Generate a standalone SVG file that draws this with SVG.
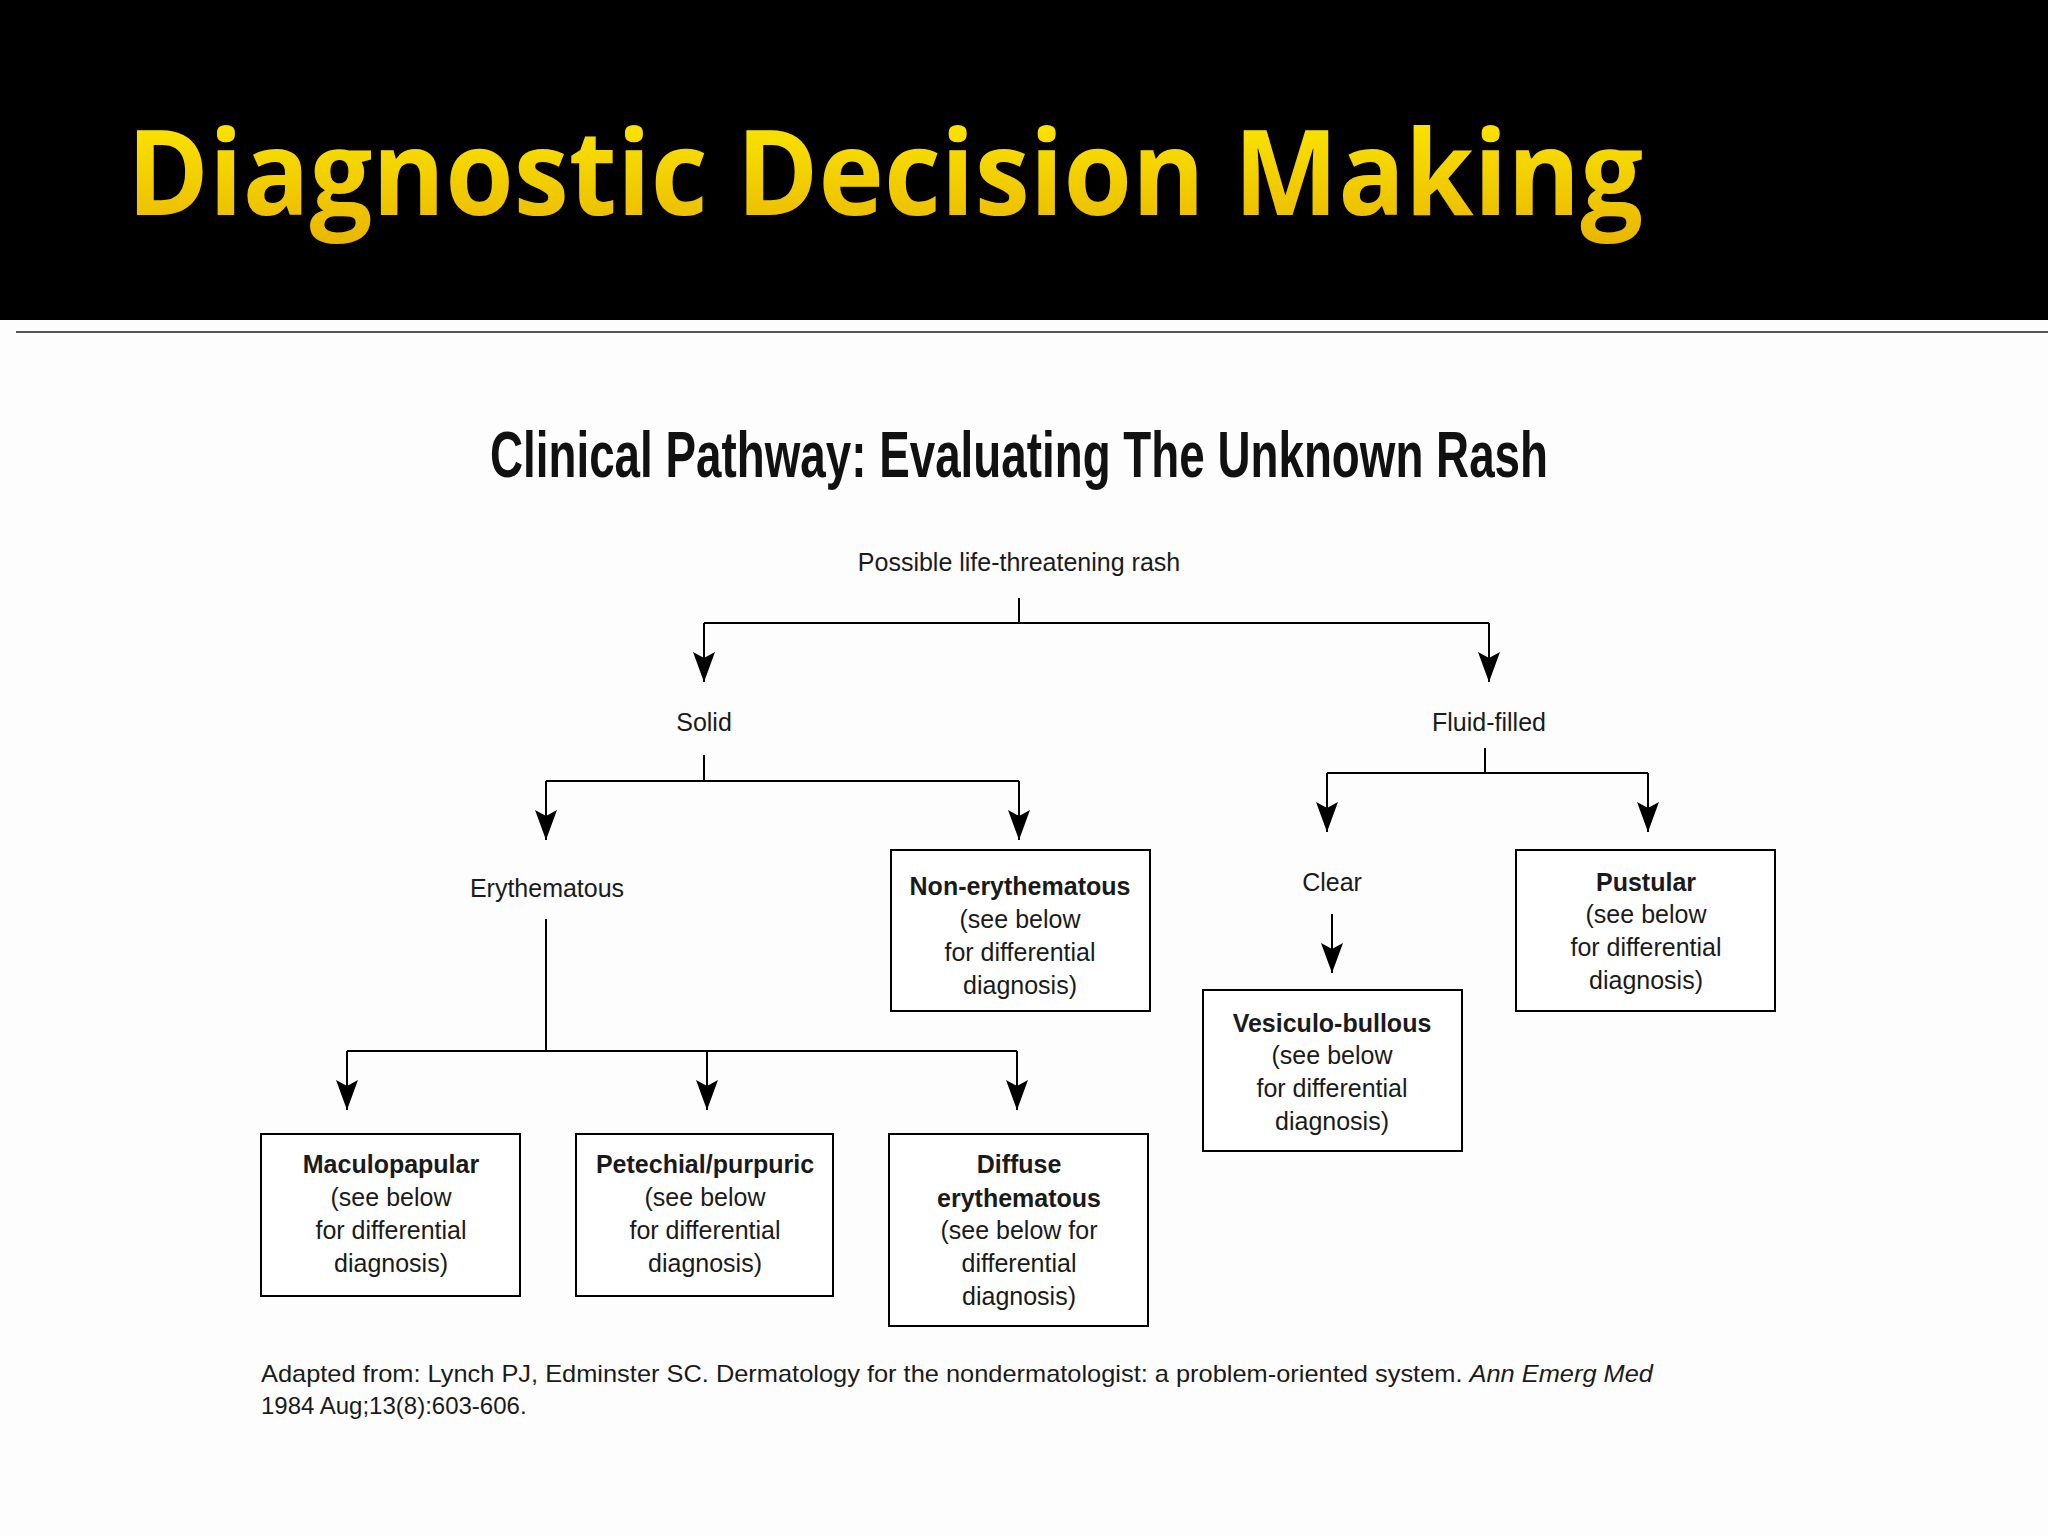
<svg xmlns="http://www.w3.org/2000/svg" width="2048" height="1536" viewBox="0 0 2048 1536">
<defs>
<linearGradient id="yg" x1="0" y1="0" x2="0" y2="1"><stop offset="0" stop-color="#FFF000"/><stop offset="1" stop-color="#E8B400"/></linearGradient>
<marker id="ah" markerUnits="userSpaceOnUse" markerWidth="22" markerHeight="30" viewBox="0 0 22 30" refX="11" refY="30" orient="auto-start-reverse"><path d="M0,0 L11,8 L22,0 L11,30 Z" fill="#000" transform="rotate(-90 11 15) translate(-4 4)" opacity="0"/></marker>
<marker id="arr" markerUnits="userSpaceOnUse" markerWidth="22" markerHeight="30" viewBox="0 0 22 30" refX="11" refY="30" orient="0"><path d="M0,0 L11,6 L22,0 L11,30 Z" fill="#000"/></marker>
</defs>
<style>
.t{font-family:"Liberation Sans",Arial,sans-serif;font-size:25px;fill:#1a1a1a;text-anchor:middle}
.b{font-weight:bold}
.box{fill:#fff;stroke:#000;stroke-width:2}
.c{fill:none;stroke:#000;stroke-width:2}
</style>
<rect width="2048" height="1536" fill="#fdfdfd"/>
<rect width="2048" height="320" fill="#000"/>
<text x="127" y="215" font-family="Open Sans, Liberation Sans, sans-serif" font-weight="bold" font-size="118" fill="url(#yg)" textLength="1516" lengthAdjust="spacingAndGlyphs">Diagnostic Decision Making</text>
<line x1="16" y1="332" x2="2048" y2="332" stroke="#555" stroke-width="2"/>
<text x="1019" y="477" font-family="Liberation Sans Narrow, Liberation Sans, sans-serif" font-weight="bold" font-size="64" fill="#111" text-anchor="middle" textLength="1058" lengthAdjust="spacingAndGlyphs">Clinical Pathway: Evaluating The Unknown Rash</text>
<g id="connectors" class="c">
<path d="M1019,598 V623 M704,623 H1489"/>
<path d="M704,623 V682" marker-end="url(#arr)"/>
<path d="M1489,623 V682" marker-end="url(#arr)"/>
<path d="M704,755 V781 M546,781 H1019"/>
<path d="M546,781 V840" marker-end="url(#arr)"/>
<path d="M1019,781 V840" marker-end="url(#arr)"/>
<path d="M1485,748 V773 M1327,773 H1648"/>
<path d="M1327,773 V832" marker-end="url(#arr)"/>
<path d="M1648,773 V832" marker-end="url(#arr)"/>
<path d="M1332,914 V973" marker-end="url(#arr)"/>
<path d="M546,919 V1051 M347,1051 H1017"/>
<path d="M347,1051 V1110" marker-end="url(#arr)"/>
<path d="M707,1051 V1110" marker-end="url(#arr)"/>
<path d="M1017,1051 V1110" marker-end="url(#arr)"/>
</g>
<g id="root"><text class="t" x="1019" y="571">Possible life-threatening rash</text></g>
<g id="solid"><text class="t" x="704" y="731">Solid</text></g>
<g id="fluid"><text class="t" x="1489" y="731">Fluid-filled</text></g>
<g id="erythematous"><text class="t" x="547" y="897">Erythematous</text></g>
<g id="clear"><text class="t" x="1332" y="891">Clear</text></g>
<g id="nonery"><rect class="box" x="891" y="850" width="259" height="161"/>
<text class="t b" x="1020" y="895">Non-erythematous</text><text class="t" x="1020" y="928">(see below</text><text class="t" x="1020" y="961">for differential</text><text class="t" x="1020" y="994">diagnosis)</text></g>
<g id="vesiculo"><rect class="box" x="1203" y="990" width="259" height="161"/>
<text class="t b" x="1332" y="1032">Vesiculo-bullous</text><text class="t" x="1332" y="1064">(see below</text><text class="t" x="1332" y="1097">for differential</text><text class="t" x="1332" y="1130">diagnosis)</text></g>
<g id="pustular"><rect class="box" x="1516" y="850" width="259" height="161"/>
<text class="t b" x="1646" y="891">Pustular</text><text class="t" x="1646" y="923">(see below</text><text class="t" x="1646" y="956">for differential</text><text class="t" x="1646" y="989">diagnosis)</text></g>
<g id="maculo"><rect class="box" x="261" y="1134" width="259" height="162"/>
<text class="t b" x="391" y="1173">Maculopapular</text><text class="t" x="391" y="1206">(see below</text><text class="t" x="391" y="1239">for differential</text><text class="t" x="391" y="1272">diagnosis)</text></g>
<g id="petechial"><rect class="box" x="576" y="1134" width="257" height="162"/>
<text class="t b" x="705" y="1173">Petechial/purpuric</text><text class="t" x="705" y="1206">(see below</text><text class="t" x="705" y="1239">for differential</text><text class="t" x="705" y="1272">diagnosis)</text></g>
<g id="diffuse"><rect class="box" x="889" y="1134" width="259" height="192"/>
<text class="t b" x="1019" y="1173">Diffuse</text><text class="t b" x="1019" y="1207">erythematous</text><text class="t" x="1019" y="1239">(see below for</text><text class="t" x="1019" y="1272">differential</text><text class="t" x="1019" y="1305">diagnosis)</text></g>
<g id="footer" font-family="Liberation Sans, Arial, sans-serif" font-size="24" fill="#1a1a1a">
<text x="261" y="1382" textLength="1392" lengthAdjust="spacingAndGlyphs">Adapted from: Lynch PJ, Edminster SC. Dermatology for the nondermatologist: a problem-oriented system. <tspan font-style="italic">Ann Emerg Med</tspan></text>
<text x="261" y="1414">1984 Aug;13(8):603-606.</text>
</g>
</svg>
